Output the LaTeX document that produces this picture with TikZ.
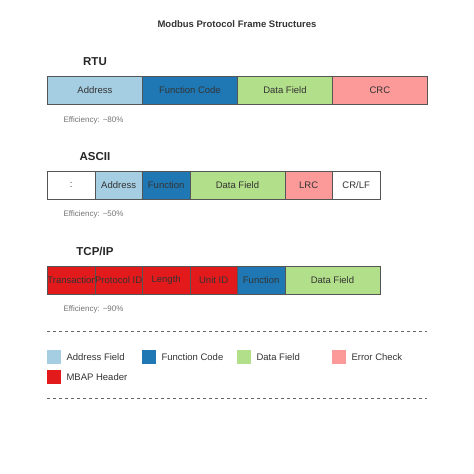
\documentclass[tikz,border=0pt]{standalone}
\usepackage{fontspec}
\setmainfont{Liberation Sans}
\definecolor{addr}{HTML}{A6CEE3}
\definecolor{func}{HTML}{1F78B4}
\definecolor{dataf}{HTML}{B2DF8A}
\definecolor{errc}{HTML}{FB9A99}
\definecolor{mbap}{HTML}{E31A1C}
\definecolor{txt}{HTML}{333333}
\definecolor{edge}{HTML}{555555}
\begin{document}
\begin{tikzpicture}[x=1pt,y=-1pt,
  cell/.style={draw=edge,line width=0.8pt,minimum height=28pt,inner sep=0pt,anchor=west,font=\fontsize{9.5}{11}\selectfont,text=txt},
  ttl/.style={font=\bfseries\fontsize{11.5}{13}\selectfont,text=black!85},
  eff/.style={font=\fontsize{8}{9}\selectfont,text=black!55,anchor=west},
  leg/.style={minimum size=13.5pt,inner sep=0pt,anchor=west},
  legt/.style={font=\fontsize{9.5}{11}\selectfont,text=txt,anchor=west},
  sep/.style={dashed,draw=black!60,line width=0.7pt}]
\useasboundingbox (0,0) rectangle (474,474);
\node[font=\bfseries\fontsize{9.5}{11}\selectfont,text=txt] (title) at (237,24) {Modbus Protocol Frame Structures};
% RTU
\node[ttl] (rtu) at (95,62) {RTU};
\node[cell,fill=addr,minimum width=95pt] (r1) at (47,90) {Address};
\node[cell,fill=func,minimum width=95pt] (r2) at (142,90) {Function Code};
\node[cell,fill=dataf,minimum width=95pt] (r3) at (237,90) {Data Field};
\node[cell,fill=errc,minimum width=95pt] (r4) at (332,90) {CRC};
\node[eff] (re) at (60,120) {Efficiency: \textasciitilde 80\%};
% ASCII
\node[ttl] (ascii) at (95,157) {ASCII};
\node[cell,fill=white,minimum width=47.5pt] (a1) at (47,185) {:};
\node[cell,fill=addr,minimum width=47.5pt] (a2) at (94.5,185) {Address};
\node[cell,fill=func,minimum width=47.5pt] (a3) at (142,185) {Function};
\node[cell,fill=dataf,minimum width=95pt] (a4) at (189.5,185) {Data Field};
\node[cell,fill=errc,minimum width=47.5pt] (a5) at (284.5,185) {LRC};
\node[cell,fill=white,minimum width=47.5pt] (a6) at (332,185) {CR/LF};
\node[eff] (ae) at (60,214) {Efficiency: \textasciitilde 50\%};
% TCP/IP
\node[ttl] (tcp) at (95,251) {TCP/IP};
\node[cell,fill=mbap,minimum width=47.5pt] (t1) at (47,280) {Transaction};
\node[cell,fill=mbap,minimum width=47.5pt] (t2) at (94.5,280) {Protocol ID};
\node[cell,fill=mbap,minimum width=47.5pt] (t3) at (142,280) {Length};
\node[cell,fill=mbap,minimum width=47.5pt] (t4) at (189.5,280) {Unit ID};
\node[cell,fill=func,minimum width=47.5pt] (t5) at (237,280) {Function};
\node[cell,fill=dataf,minimum width=95pt] (t6) at (284.5,280) {Data Field};
\node[eff] (te) at (60,309) {Efficiency: \textasciitilde 90\%};
% legend
\coordinate (s1a) at (47,331); \coordinate (s1b) at (427,331);
\draw[sep] (s1a) -- (s1b);
\node[leg,fill=addr] (l1) at (47,357) {};
\node[legt] (l1t) at (63,357) {Address Field};
\node[leg,fill=func] (l2) at (142,357) {};
\node[legt] (l2t) at (158,357) {Function Code};
\node[leg,fill=dataf] (l3) at (237,357) {};
\node[legt] (l3t) at (253,357) {Data Field};
\node[leg,fill=errc] (l4) at (332,357) {};
\node[legt] (l4t) at (348,357) {Error Check};
\node[leg,fill=mbap] (l5) at (47,377) {};
\node[legt] (l5t) at (63,377) {MBAP Header};
\coordinate (s2a) at (47,398); \coordinate (s2b) at (427,398);
\draw[sep] (s2a) -- (s2b);
\end{tikzpicture}
\end{document}
